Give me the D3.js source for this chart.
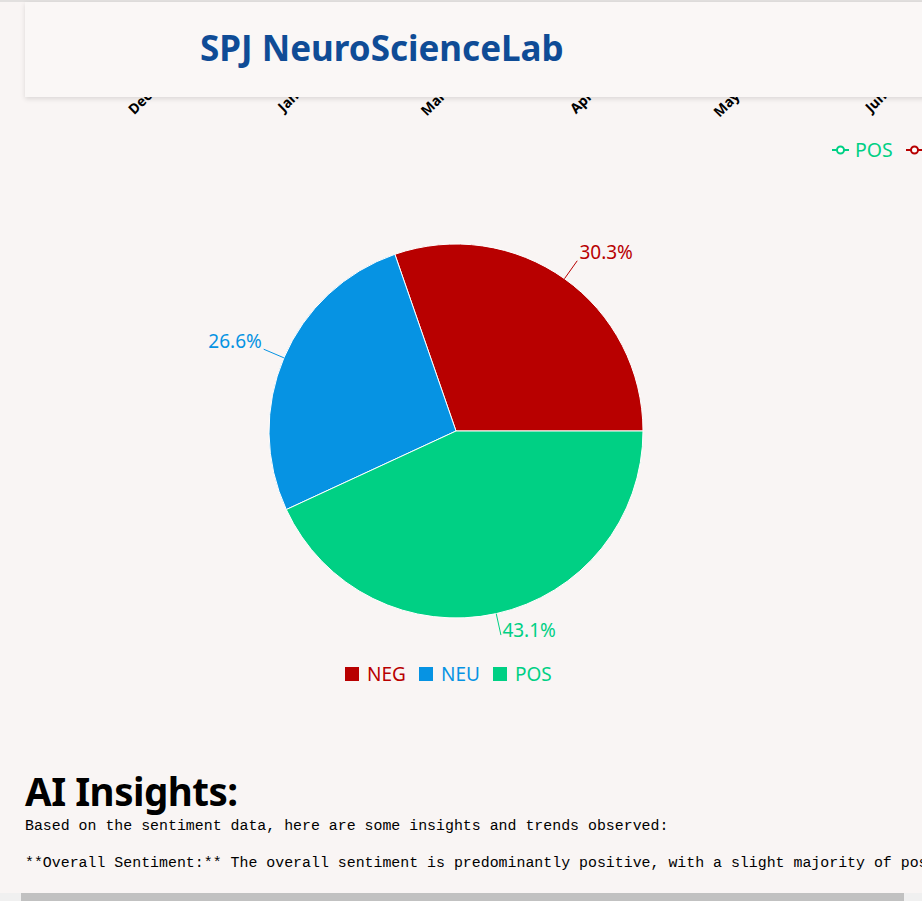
<!DOCTYPE html>
<html>
<head>
<meta charset="utf-8">
<script src="https://cdn.jsdelivr.net/npm/d3@7"></script>
<style>
  html, body { margin: 0; padding: 0; }
  body {
    width: 922px; height: 901px; overflow: hidden; position: relative;
    background: #f9f5f4; font-family: "Noto Sans", "Open Sans", sans-serif;
  }
  #topline { position: absolute; left: 0; top: 0; width: 922px; height: 2px; background: #e2e0df; }
  #axis { position: absolute; left: 0; top: 0; }
  #header {
    position: absolute; left: 25px; top: 2px; width: 920px; height: 95px;
    background: #faf7f6; box-shadow: 0 2px 5px rgba(0,0,0,0.12);
  }
  #header h1 {
    position: absolute; left: 175px; top: 22px; margin: 0;
    font-size: 35px; font-weight: 700; color: #0f4c96; letter-spacing: 0;
  }
  #chart { position: absolute; left: 0; top: 0; }
  #insights { position: absolute; left: 25px; top: 765px; }
  #insights h2 { margin: 0; font-size: 38.5px; font-weight: 700; color: #000; letter-spacing: -0.5px; }
  #insights pre {
    margin: 0; font-family: "Liberation Mono", monospace; font-size: 14.9px;
    line-height: 18.5px; color: #000; white-space: pre;
  }
  #scroll { position: absolute; left: 0; top: 893px; width: 922px; height: 8px; background: #f0f0f0; }
  #thumb { position: absolute; left: 21px; top: 0; width: 883px; height: 8px; background: #c1c1c1; }
</style>
</head>
<body>
<div id="topline"></div>
<svg id="axis" width="922" height="180"></svg>
<div id="header"><h1>SPJ NeuroScienceLab</h1></div>
<svg id="chart" width="922" height="760"></svg>
<div id="insights">
  <h2>AI Insights:</h2>
<pre>Based on the sentiment data, here are some insights and trends observed:

**Overall Sentiment:** The overall sentiment is predominantly positive, with a slight majority of positive posts.</pre>
</div>
<div id="scroll"><div id="thumb"></div></div>
<script>
const months = ["Dec", "Jan", "Mar", "Apr", "May", "Jun"];
const lineSeries = ["POS", "NEG", "NEU"];
const categories = ["NEG", "NEU", "POS"];
const shares = [30.3, 26.6, 43.1];
const colors = ["#b80000", "#0693e3", "#00d084"];

const color = d3.scaleOrdinal().domain(categories).range(colors);

// leftover x axis of the line chart above (mostly under the header)
const axisSvg = d3.select("#axis");
const x = d3.scalePoint().domain(months).range([152, 887]);
const xAxis = axisSvg.append("g")
  .attr("transform", "translate(0,97)")
  .call(d3.axisBottom(x).tickSize(0).tickPadding(0));
xAxis.select(".domain").remove();
xAxis.selectAll("text")
  .attr("transform", "rotate(-45)")
  .attr("text-anchor", "end")
  .attr("dx", "0")
  .attr("dy", "0")
  .style("font-family", "'Noto Sans', sans-serif")
  .style("font-size", "14px")
  .style("font-weight", "700")
  .attr("fill", "#000");

// line chart legend (clipped at the right edge)
const lineColor = d3.scaleOrdinal().domain(lineSeries).range(["#00d084", "#b80000", "#0693e3"]);
const lg = axisSvg.append("g").attr("transform", "translate(832,150)");
let lx = 0;
lineSeries.forEach(s => {
  const g = lg.append("g").attr("transform", `translate(${lx},0)`);
  g.append("line").attr("x1", 0).attr("x2", 17).attr("stroke", lineColor(s)).attr("stroke-width", 2);
  g.append("circle").attr("cx", 8.5).attr("r", 3.5).attr("fill", "#fff").attr("stroke", lineColor(s)).attr("stroke-width", 2);
  g.append("text").attr("x", 23).attr("dy", "0.35em").attr("fill", lineColor(s))
    .style("font-size", "19.5px").text(s);
  lx += 74;
});

// pie
const svg = d3.select("#chart");
const cx = 456, cy = 431, R = 187;
const pie = d3.pie().sort(null).value(d => d.v)
  .startAngle(Math.PI / 2).endAngle(Math.PI / 2 - 2 * Math.PI);
const data = categories.map((c, i) => ({ c, v: shares[i] }));
const arcs = pie(data);
const arc = d3.arc().innerRadius(0).outerRadius(R);

const g = svg.append("g").attr("transform", `translate(${cx},${cy})`);
g.selectAll("path.slice").data(arcs).join("path")
  .attr("class", "slice")
  .attr("d", arc)
  .attr("fill", d => color(d.data.c))
  .attr("stroke", "#fff").attr("stroke-width", 1);

const total = d3.sum(shares);
const mid = d => (d.startAngle + d.endAngle) / 2;
const pt = (a, r) => [Math.sin(a) * r, -Math.cos(a) * r];
g.selectAll("path.lbl").data(arcs).join("path")
  .attr("class", "lbl")
  .attr("d", d => d3.line()([pt(mid(d), R), pt(mid(d), R + 22)]))
  .attr("fill", "none").attr("stroke", d => color(d.data.c));
g.selectAll("text.lbl").data(arcs).join("text")
  .attr("class", "lbl")
  .attr("x", d => pt(mid(d), R + 24)[0] + (Math.sin(mid(d)) >= 0 ? 1 : 0))
  .attr("y", d => pt(mid(d), R + 24)[1])
  .attr("text-anchor", d => Math.sin(mid(d)) >= 0 ? "start" : "end")
  .attr("dy", "0")
  .attr("fill", d => color(d.data.c))
  .style("font-size", "19px")
  .text(d => (d.data.v / total * 100).toFixed(1) + "%");

// pie legend
const legend = svg.append("g").attr("transform", "translate(345,674)");
let off = 0;
categories.forEach(c => {
  const it = legend.append("g").attr("transform", `translate(${off},0)`);
  it.append("rect").attr("y", -7).attr("width", 14).attr("height", 14).attr("fill", color(c));
  it.append("text").attr("x", 22).attr("dy", "0.35em").attr("fill", color(c))
    .style("font-size", "19px").text(c);
  off += 74;
});
</script>
</body>
</html>
